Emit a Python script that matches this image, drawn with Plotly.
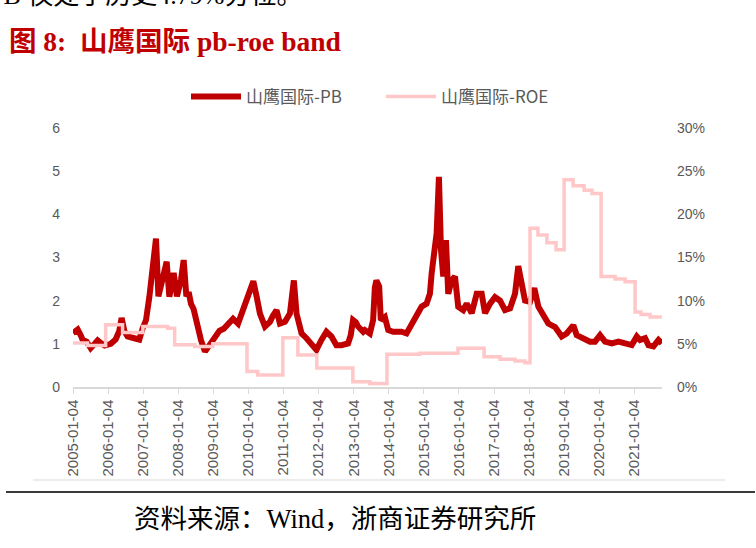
import plotly.graph_objects as go

W, H = 756, 548

# ---------------- data ----------------
pb_dates = [
    "2005-01-04", "2005-01-25", "2005-02-22", "2005-03-25", "2005-04-15", "2005-05-26",
    "2005-07-07", "2005-08-18", "2005-09-18", "2005-10-20", "2005-11-30", "2006-02-01",
    "2006-03-24", "2006-05-01", "2006-05-25", "2006-06-22", "2006-07-26", "2006-10-04",
    "2006-11-25", "2006-12-29", "2007-02-03", "2007-03-10", "2007-04-03", "2007-04-24",
    "2007-05-18", "2007-06-12", "2007-07-06", "2007-07-27", "2007-08-17", "2007-09-06",
    "2007-10-04", "2007-10-28", "2007-11-18", "2007-12-22", "2008-02-02", "2008-03-01",
    "2008-03-29", "2008-04-22", "2008-05-16", "2008-06-13", "2008-07-07", "2008-08-04",
    "2008-08-29", "2008-10-09", "2008-11-24", "2009-01-15", "2009-03-08", "2009-04-22",
    "2009-06-06", "2009-07-28", "2009-09-18", "2009-11-09", "2010-01-04", "2010-01-31",
    "2010-02-24", "2010-03-31", "2010-05-04", "2010-06-25", "2010-08-16", "2010-09-16",
    "2010-10-24", "2010-11-28", "2011-01-19", "2011-03-12", "2011-04-02", "2011-04-22",
    "2011-05-20", "2011-06-13", "2011-07-11", "2011-08-31", "2011-10-22", "2011-12-13",
    "2012-02-03", "2012-03-26", "2012-05-17", "2012-07-08", "2012-08-29", "2012-11-06",
    "2012-12-04", "2012-12-28", "2013-01-26", "2013-02-19", "2013-04-12", "2013-04-30",
    "2013-06-21", "2013-07-25", "2013-08-12", "2013-08-28", "2013-09-26", "2013-10-13",
    "2013-11-24", "2013-12-29", "2014-02-19", "2014-05-17", "2014-07-08", "2014-08-29",
    "2014-10-20", "2014-12-11", "2015-02-01", "2015-03-08", "2015-03-26", "2015-04-19",
    "2015-05-17", "2015-06-10", "2015-07-01", "2015-07-25", "2015-08-22", "2015-09-15",
    "2015-10-20", "2015-11-24", "2015-12-28", "2016-02-18", "2016-03-25", "2016-05-16",
    "2016-07-07", "2016-08-28", "2016-10-02", "2016-11-23", "2017-01-14", "2017-03-07",
    "2017-04-28", "2017-06-19", "2017-08-10", "2017-09-13", "2017-10-19", "2017-11-22",
    "2018-01-13", "2018-02-27", "2018-04-10", "2018-06-01", "2018-07-23", "2018-10-01",
    "2018-12-09", "2019-01-30", "2019-04-09", "2019-05-14", "2019-07-22", "2019-09-30",
    "2019-11-21", "2020-01-12", "2020-03-04", "2020-05-13", "2020-07-21", "2020-09-29",
    "2020-12-07", "2021-01-29", "2021-03-04", "2021-04-25", "2021-05-30", "2021-07-21",
    "2021-09-11", "2021-10-16",
]
pb_values = [
    1.25, 1.30, 1.33, 1.20, 1.09, 1.05,
    0.90, 1.00, 1.08, 1.02, 0.96, 1.00,
    1.10, 1.30, 1.60, 1.30, 1.17, 1.13,
    1.10, 1.35, 1.55, 2.09, 2.64, 2.80,
    3.44, 2.10, 2.30, 2.48, 2.70, 2.90,
    2.09, 2.40, 2.64, 2.10, 2.48, 2.94,
    2.10, 2.20, 1.93, 1.80, 1.55, 1.30,
    1.08, 0.82, 0.97, 1.14, 1.30, 1.35,
    1.47, 1.58, 1.47, 1.78, 2.17, 2.30,
    2.45, 2.09, 1.70, 1.40, 1.51, 1.65,
    1.78, 1.47, 1.51, 1.70, 2.00, 2.47,
    1.70, 1.50, 1.24, 1.13, 1.01, 0.86,
    1.09, 1.28, 1.17, 0.97, 0.97, 1.01,
    1.20, 1.55, 1.50, 1.40, 1.28, 1.32,
    1.24, 1.55, 2.30, 2.47, 2.33, 1.55,
    1.62, 1.32, 1.28, 1.28, 1.24, 1.43,
    1.62, 1.86, 1.93, 2.16, 2.63, 3.10,
    3.56, 4.87, 3.20, 2.56, 3.40, 2.16,
    2.47, 2.56, 1.86, 1.78, 1.93, 1.71,
    2.16, 2.16, 1.71, 1.93, 2.08, 2.00,
    1.78, 1.82, 2.16, 2.80, 2.33, 2.00,
    1.97, 2.29, 1.86, 1.63, 1.47, 1.39,
    1.17, 1.24, 1.43, 1.20, 1.13, 1.05,
    1.05, 1.20, 1.05, 1.01, 1.05, 1.01,
    0.97, 1.17, 1.09, 1.13, 0.97, 0.94,
    1.09, 1.01,
]

roe_dates = [
    "2005-01-04", "2005-06-05", "2005-12-10", "2006-06-04", "2007-01-01", "2007-09-16",
    "2007-11-28", "2008-06-24", "2008-12-29", "2009-12-20", "2010-04-11", "2010-12-28",
    "2011-06-03", "2011-12-17", "2012-12-26", "2013-06-21", "2013-12-16", "2014-11-23",
    "2015-12-25", "2016-09-22", "2017-03-07", "2017-08-10", "2017-11-21", "2018-01-13",
    "2018-04-06", "2018-07-08", "2018-10-11", "2019-01-03", "2019-04-06", "2019-07-30",
    "2019-10-21", "2020-01-23", "2020-06-17", "2020-09-29", "2021-01-11", "2021-03-14",
    "2021-06-17", "2021-10-16",
]
roe_values_pct = [
    5.1, 4.8, 7.2, 6.3, 7.0, 6.8,
    4.9, 4.7, 5.0, 1.8, 1.4, 5.7,
    3.7, 2.2, 0.6, 0.4, 3.8, 3.9,
    4.5, 3.5, 3.2, 3.0, 2.8, 18.4,
    17.6, 16.7, 15.9, 24.0, 23.3, 22.8,
    22.4, 12.8, 12.5, 12.2, 8.7, 8.4,
    8.1, 8.1,
]

tick_dates = [f"{y}-01-04" for y in range(2005, 2022)]
tick_labels = [f"{y}-01-04" for y in range(2005, 2022)]
left_ticks = [0, 1, 2, 3, 4, 5, 6]
right_ticks = [0, 0.05, 0.10, 0.15, 0.20, 0.25, 0.30]

series_names = ["山鹰国际-PB", "山鹰国际-ROE"]

# ---------------- figure ----------------
def px_x(p):
    return p / W

def px_y(p):
    return 1 - p / H

fig = go.Figure()
fig.add_trace(go.Scatter(
    x=pb_dates, y=pb_values, name=series_names[0], mode="lines",
    line=dict(color="#C00000", width=6), yaxis="y",
))
fig.add_trace(go.Scatter(
    x=roe_dates, y=[v / 100 for v in roe_values_pct], name=series_names[1], mode="lines",
    line=dict(color="#FFC7C7", width=3.5, shape="hv"), yaxis="y2",
))

tick_font = dict(family="Liberation Sans, Arial, sans-serif", size=14, color="#595959")

fig.update_layout(
    width=W, height=H,
    margin=dict(l=0, r=0, t=0, b=0, autoexpand=False),
    paper_bgcolor="white", plot_bgcolor="rgba(0,0,0,0)",
    hovermode=False,
    showlegend=True,
    legend=dict(
        orientation="h", x=px_x(186), y=px_y(97), xanchor="left", yanchor="middle",
        font=dict(family="Noto Sans CJK SC, Liberation Sans, sans-serif", size=17, color="#595959"),
        bgcolor="rgba(0,0,0,0)", itemwidth=50, entrywidth=130, entrywidthmode="pixels",
    ),
    xaxis=dict(
        type="date", domain=[px_x(73), px_x(662)],
        range=["2005-01-04", "2021-10-18"],
        tickmode="array", tickvals=tick_dates, ticktext=tick_labels,
        tickangle=-90, tickfont=dict(tick_font, size=15),
        showline=True, linecolor="#D9D9D9", linewidth=1.5,
        ticks="outside", tickcolor="#D9D9D9", ticklen=5, tickwidth=1,
        showgrid=False, zeroline=False, anchor="y", automargin=False,
    ),
    yaxis=dict(
        domain=[px_y(387), px_y(128)], range=[0, 6],
        tickmode="array", tickvals=left_ticks, tickfont=tick_font,
        showgrid=False, zeroline=False, showline=False, ticks="",
        ticklabelstandoff=12, anchor="x", automargin=False,
    ),
    yaxis2=dict(
        overlaying="y", side="right", anchor="x", range=[0, 0.30],
        tickmode="array", tickvals=right_ticks, tickformat=".0%", tickfont=tick_font,
        showgrid=False, zeroline=False, showline=False, ticks="",
        ticklabelstandoff=14, automargin=False,
    ),
)

# frame lines
fig.add_shape(type="line", xref="paper", yref="paper",
              x0=px_x(33), x1=px_x(725), y0=px_y(480), y1=px_y(480),
              line=dict(color="#D9D9D9", width=1))
fig.add_shape(type="line", xref="paper", yref="paper",
              x0=px_x(6), x1=px_x(755), y0=px_y(492), y1=px_y(492),
              line=dict(color="#3A3A3A", width=2))

serif = "Liberation Serif, Times New Roman, Noto Sans CJK SC, serif"

# text above (cut off by the top edge, as in the reference)
fig.add_annotation(text="PB 仅处于历史4.79%分位。", xref="paper", yref="paper",
                   x=px_x(-13), y=px_y(-4), xanchor="left", yanchor="middle",
                   showarrow=False, font=dict(family=serif, size=26, color="#000000"))
# title
fig.add_annotation(text="<b>图 8:  山鹰国际 pb-roe band</b>", xref="paper", yref="paper",
                   x=px_x(7), y=px_y(42), xanchor="left", yanchor="middle",
                   showarrow=False, font=dict(family=serif, size=27.5, color="#C00000"))
# source
fig.add_annotation(text="资料来源：Wind，浙商证券研究所", xref="paper", yref="paper",
                   x=px_x(132), y=px_y(519), xanchor="left", yanchor="middle",
                   showarrow=False, font=dict(family=serif, size=26.5, color="#000000"))

# page without the default body margin so the figure fills the window
fig.write_html("out.html", config={"displayModeBar": False},
               post_script="document.body.style.margin='0';")
